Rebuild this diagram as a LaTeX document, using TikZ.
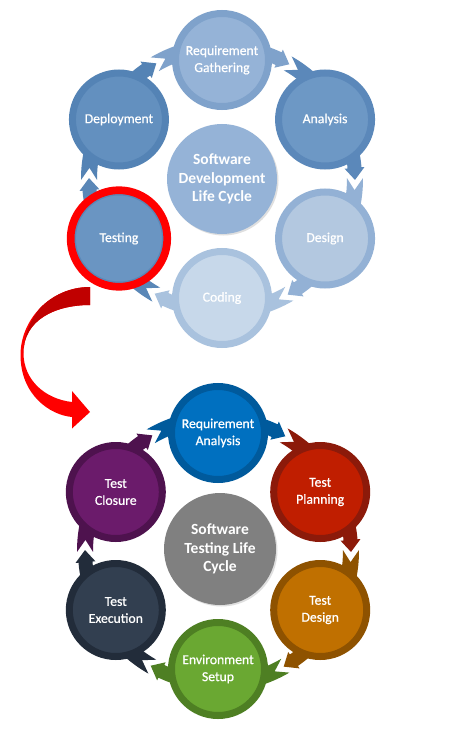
\documentclass[tikz,border=0pt]{standalone}
\usepackage{fontspec}
\setmainfont{Carlito}
\newfontfamily\stagefont[FakeBold=0.7]{Carlito}
\usetikzlibrary{shadows}
% top palette
\definecolor{rgR}{HTML}{7FA2CB}\definecolor{rgM}{HTML}{95B3D7}
\definecolor{anR}{HTML}{5B88BA}\definecolor{anM}{HTML}{6D98C5}
\definecolor{deR}{HTML}{93B1D5}\definecolor{deM}{HTML}{B3C8E0}
\definecolor{coR}{HTML}{A9C2DE}\definecolor{coM}{HTML}{C7D8EA}
\definecolor{teR}{HTML}{5A87B7}\definecolor{teM}{HTML}{6A95C2}
\definecolor{dpR}{HTML}{5483B5}\definecolor{dpM}{HTML}{6390BF}
\definecolor{hubTop}{HTML}{95B3D7}
% bottom palette
\definecolor{raR}{HTML}{005A9C}\definecolor{raM}{HTML}{0070C0}
\definecolor{tpR}{HTML}{8C1A0A}\definecolor{tpM}{HTML}{C01E00}
\definecolor{tdR}{HTML}{8E5200}\definecolor{tdM}{HTML}{C07000}
\definecolor{esR}{HTML}{4E7F23}\definecolor{esM}{HTML}{6AA832}
\definecolor{txR}{HTML}{222C3A}\definecolor{txM}{HTML}{323F50}
\definecolor{tcR}{HTML}{4E124E}\definecolor{tcM}{HTML}{6B1B6B}
\definecolor{hubBot}{HTML}{808080}
\definecolor{arrBright}{HTML}{FF0000}
\definecolor{arrDark}{HTML}{C00000}
\tikzset{
  stage/.style 2 args={circle, fill=#2, draw=#1, line width=7pt,
    minimum size=93pt, inner sep=0pt, text=white, align=center,
    font=\stagefont\fontsize{13.7}{17}\selectfont},
  hub/.style={circle, minimum size=110pt, inner sep=0pt, text=white,
    align=center, font=\bfseries\fontsize{15.5}{18.5}\selectfont,
    drop shadow={opacity=0.25, shadow xshift=1.5pt, shadow yshift=-1.5pt}},
  hilite/.style={draw=arrBright, line width=7.7pt},
}
% arrow tab (clockwise side) and swallow tail (counter-clockwise side)
\newcommand\cyctabs[2]{%
  \fill[#2] ({#1-10}:126pt) arc[start angle={#1-10}, end angle={#1-25.2}, radius=126pt]
    -- ({#1-25.2}:123pt) -- ({#1-30.4}:133pt) -- ({#1-25.2}:143pt)
    -- ({#1-25.2}:140pt) arc[start angle={#1-25.2}, end angle={#1-10}, radius=140pt] -- cycle;
  \fill[#2] ({#1+10}:125pt) arc[start angle={#1+10}, end angle={#1+30.4}, radius=125pt]
    -- ({#1+25.2}:133pt) -- ({#1+30.4}:141pt)
    arc[start angle={#1+30.4}, end angle={#1+10}, radius=141pt] -- cycle;
}
\begin{document}
\begin{tikzpicture}[x=1pt,y=1pt]
\useasboundingbox (0,0) rectangle (448,-754);
\fill[white] (0,0) rectangle (448,-754);

% ---------------- top cycle ----------------
\begin{scope}[shift={(222,-179)}]
  \cyctabs{90}{rgR}\cyctabs{30}{anR}\cyctabs{-30}{deR}
  \cyctabs{-90}{coR}\cyctabs{-150}{teR}\cyctabs{150}{dpR}
  \node[stage={rgR}{rgM}] (rg) at (90:119pt) {Requirement\\Gathering};
  \node[stage={anR}{anM}] (an) at (30:119pt) {Analysis};
  \node[stage={deR}{deM}] (de) at (-30:119pt) {Design};
  \node[stage={coR}{coM}] (co) at (-90:119pt) {Coding};
  \node[stage={teR}{teM}] (te) at (-150:119pt) {Testing};
  \node[stage={dpR}{dpM}] (dp) at (150:119pt) {Deployment};
  \node[hub, fill=hubTop] (sdlc) at (0,0) {Software\\Development\\Life Cycle};
\end{scope}
\draw[hilite] (te.center) circle[radius=48.3pt];

% ---------------- red curved arrow ----------------
\coordinate (arrTip) at (90,-412);
\fill[arrBright] (90,-287) .. controls (50,-287) and (20.5,-320) .. (20.5,-355)
  .. controls (20.5,-395) and (50,-415) .. (72,-417)
  -- (72,-428.5) -- (arrTip) -- (72,-391) -- (72,-402)
  .. controls (45,-399) and (23.5,-380) .. (23.5,-353)
  .. controls (23.5,-320) and (55,-305) .. (90,-305) -- cycle;
\fill[arrDark] (90,-287) .. controls (70,-287) and (52.6,-295.25) .. (40.25,-307.9)
  .. controls (30,-320) and (24,-335) .. (23.5,-353)
  .. controls (23.5,-320) and (55,-305) .. (90,-305) -- cycle;

% ---------------- bottom cycle ----------------
\begin{scope}[shift={(218,-551)}]
  \cyctabs{90}{raR}\cyctabs{30}{tpR}\cyctabs{-30}{tdR}
  \cyctabs{-90}{esR}\cyctabs{-150}{txR}\cyctabs{150}{tcR}
  \node[stage={raR}{raM}] (ra) at (90:118pt) {Requirement\\Analysis};
  \node[stage={tpR}{tpM}] (tp) at (30:118pt) {Test\\Planning};
  \node[stage={tdR}{tdM}] (td) at (-30:118pt) {Test\\Design};
  \node[stage={esR}{esM}] (es) at (-90:118pt) {Environment\\Setup};
  \node[stage={txR}{txM}] (tx) at (-150:118pt) {Test\\Execution};
  \node[stage={tcR}{tcM}] (tc) at (150:118pt) {Test\\Closure};
  \node[hub, fill=hubBot, minimum size=112pt] (stlc) at (2,2) {Software\\Testing Life\\Cycle};
\end{scope}
\end{tikzpicture}
\end{document}
